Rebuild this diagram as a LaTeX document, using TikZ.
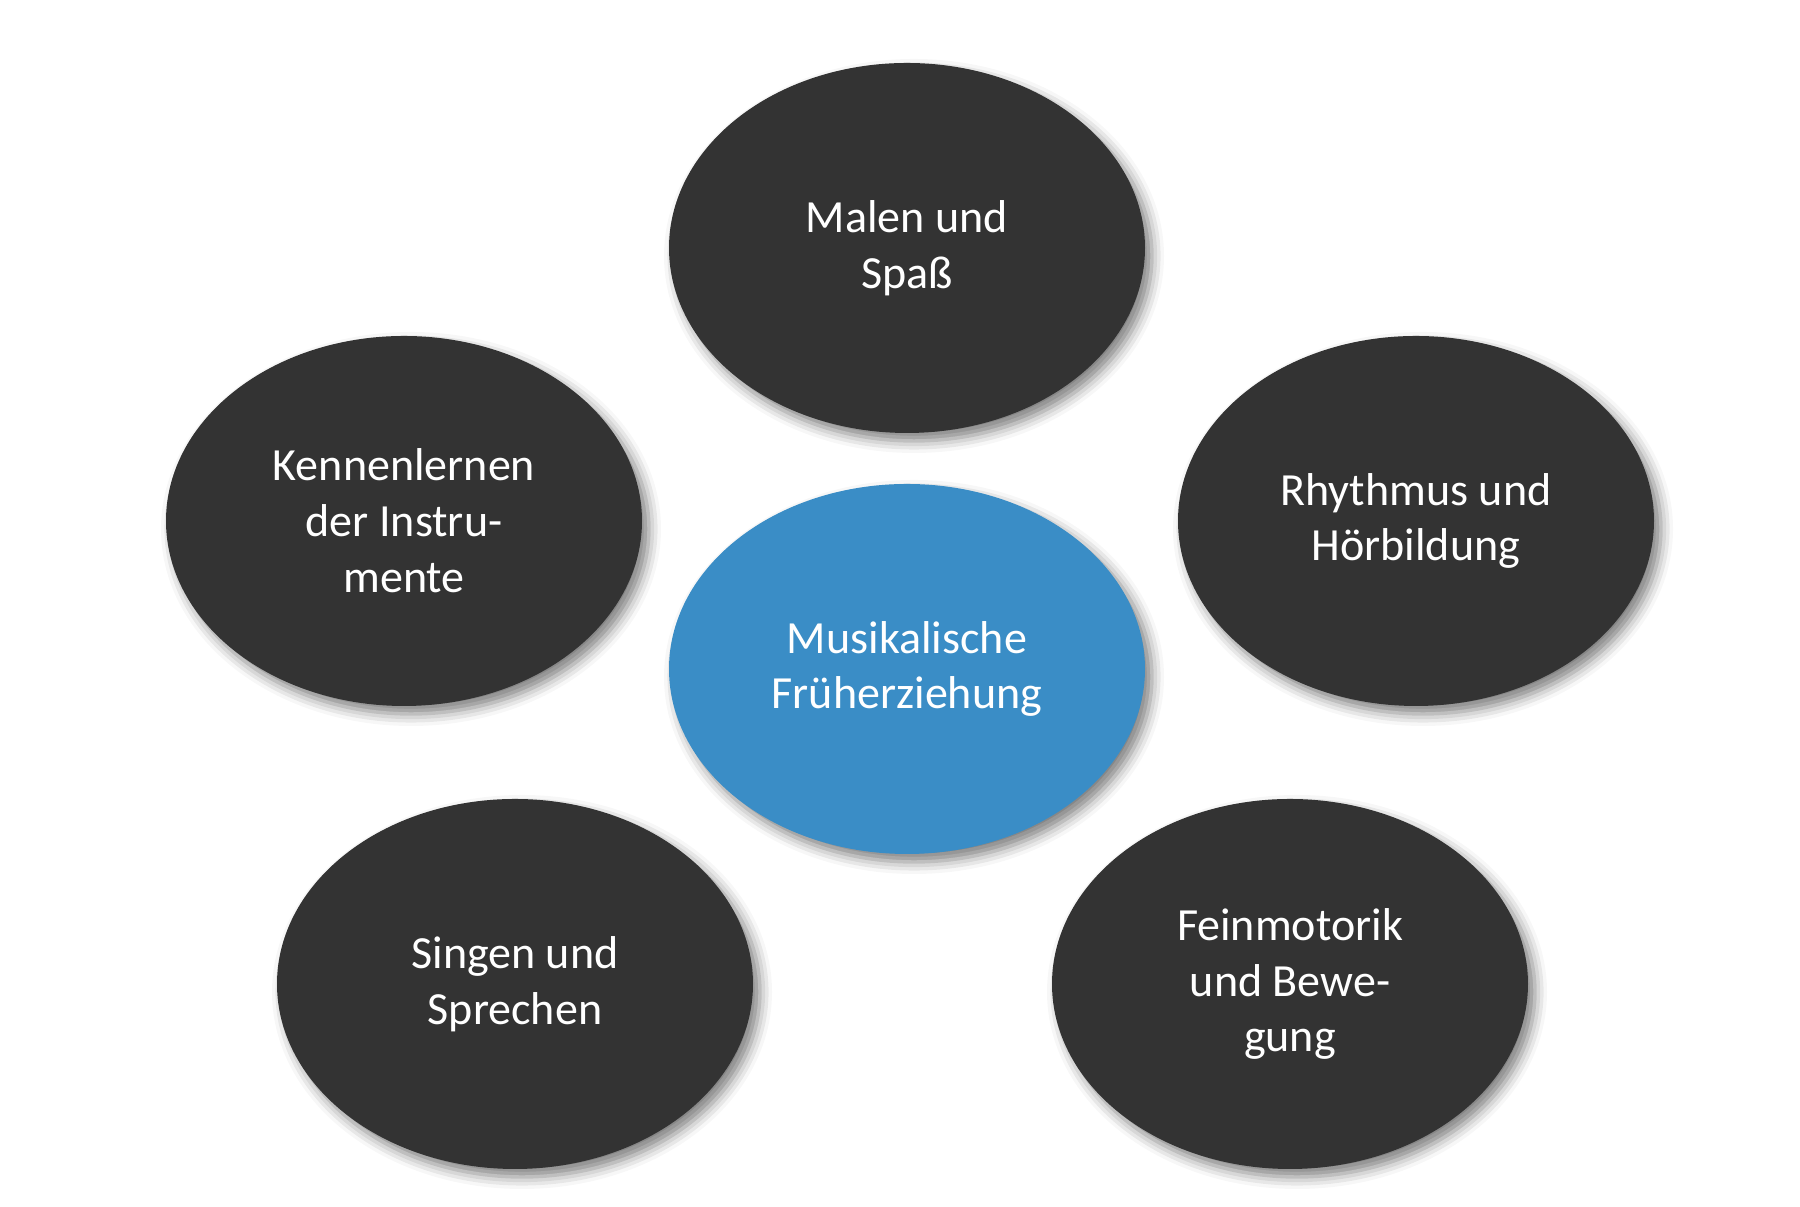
\documentclass[tikz,border=0pt]{standalone}
\usepackage{fontspec}
\setmainfont{Carlito}
\usetikzlibrary{shapes.geometric, shadows.blur}
\definecolor{dunkel}{HTML}{333333}
\definecolor{blau}{HTML}{3A8DC6}
\tikzset{
  kreis/.style={ellipse, fill=dunkel, text=white, inner sep=0pt,
    minimum width=4.76cm, minimum height=3.70cm, align=center,
    font=\fontsize{13.1}{15.9}\selectfont,
    blur shadow={shadow xshift=0.7mm, shadow yshift=-0.8mm,
      shadow blur radius=1.2mm, shadow opacity=50}},
  mitte/.style={kreis, fill=blau}
}
\begin{document}
\begin{tikzpicture}
\useasboundingbox (0,0) rectangle (18,12.07);
\node[kreis] (malen) at (9.07,9.59) {Malen und\\Spaß};
\node[kreis] (kennen) at (4.04,6.86) {Kennenlernen\\der Instru-\\mente};
\node[kreis] (rhythmus) at (14.16,6.86) {Rhythmus und\\Hörbildung};
\node[mitte] (mfe) at (9.07,5.38) {Musikalische\\Früherziehung};
\node[kreis] (singen) at (5.15,2.23) {Singen und\\Sprechen};
\node[kreis] (fein) at (12.90,2.23) {Feinmotorik\\und Bewe-\\gung};
% \node at (9.07,11.5) {Musik};
\end{tikzpicture}
\end{document}
